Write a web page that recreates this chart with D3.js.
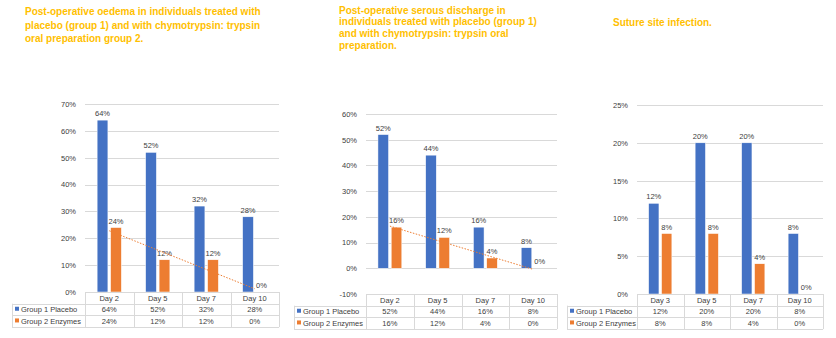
<!DOCTYPE html>
<html>
<head>
<meta charset="utf-8">
<script src="https://cdn.jsdelivr.net/npm/d3@7"></script>
<style>
  body { margin: 0; background: #fff; }
  svg text { font-family: "Liberation Sans", Arial, sans-serif; }
</style>
</head>
<body>
<svg id="chart" width="836" height="338"></svg>
<script>
// series
let seriesNames = ["Group 1 Placebo", "Group 2 Enzymes"];
let seriesColors = ["#4472C4", "#ED7D31"];

// oedema
let oedemaTitle = ["Post-operative oedema in individuals treated with",
                   "placebo (group 1) and with chymotrypsin: trypsin",
                   "oral preparation group 2."];
let oedemaDays = ["Day 2", "Day 5", "Day 7", "Day 10"];
let oedemaPlacebo = [64, 52, 32, 28];
let oedemaEnzymes = [24, 12, 12, 0];
let oedemaTicks = [0, 10, 20, 30, 40, 50, 60, 70];

// serous discharge
let dischargeTitle = ["Post-operative serous discharge in",
                      "individuals treated with placebo (group 1)",
                      "and with chymotrypsin: trypsin oral",
                      "preparation."];
let dischargeDays = ["Day 2", "Day 5", "Day 7", "Day 10"];
let dischargePlacebo = [52, 44, 16, 8];
let dischargeEnzymes = [16, 12, 4, 0];
let dischargeTicks = [-10, 0, 10, 20, 30, 40, 50, 60];

// suture site infection
let infectionTitle = ["Suture site infection."];
let infectionDays = ["Day 3", "Day 5", "Day 7", "Day 10"];
let infectionPlacebo = [12, 20, 20, 8];
let infectionEnzymes = [8, 8, 4, 0];
let infectionTicks = [0, 5, 10, 15, 20, 25];

// panel layouts
let panels = [
    {title: oedemaTitle, days: oedemaDays, values: [oedemaPlacebo, oedemaEnzymes], ticks: oedemaTicks, trend: true,
     titleX: 25, titleY: 15, lineH: 13.5, x0: 85, x1: 279, yTop: 104, yBottom: 292, tableLeft: 12},
    {title: dischargeTitle, days: dischargeDays, values: [dischargePlacebo, dischargeEnzymes], ticks: dischargeTicks, trend: true,
     titleX: 339, titleY: 13.5, lineH: 11.7, x0: 366, x1: 557, yTop: 114, yBottom: 294, tableLeft: 294},
    {title: infectionTitle, days: infectionDays, values: [infectionPlacebo, infectionEnzymes], ticks: infectionTicks, trend: false,
     titleX: 613, titleY: 25.5, lineH: 13, x0: 637, x1: 823, yTop: 105, yBottom: 294, tableLeft: 567}
];

let svg = d3.select("svg#chart");
let rowH = 11.7;
let gridColor = "#d9d9d9";
let textColor = "#404040";

panels.forEach(function(p){
    let g = svg.append("g");

    // title
    g.append("text")
        .attr("x", p.titleX)
        .attr("y", p.titleY)
        .attr("fill", "#FFC000")
        .attr("font-size", "10px")
        .attr("font-weight", "bold")
        .selectAll("tspan")
        .data(p.title)
        .enter().append("tspan")
        .attr("x", p.titleX)
        .attr("dy", (d, i) => i == 0 ? 0 : p.lineH)
        .text(d => d);

    let x = d3.scaleBand().domain(p.days).range([p.x0, p.x1]);
    let xs = d3.scaleBand().domain([0, 1]).range([0, x.bandwidth()])
                .paddingInner(0.2).paddingOuter(0.9);
    let y = d3.scaleLinear()
                .domain(d3.extent(p.ticks))
                .range([p.yBottom, p.yTop]);

    // gridlines
    g.append("g")
        .selectAll("line")
        .data(p.ticks)
        .enter().append("line")
        .attr("x1", p.x0).attr("x2", p.x1)
        .attr("y1", d => Math.round(y(d)) + 0.5)
        .attr("y2", d => Math.round(y(d)) + 0.5)
        .attr("stroke", gridColor)
        .attr("stroke-width", 1);

    // y axis labels
    let yAxis = g.append("g")
        .attr("transform", "translate(" + (p.x0 - 6) + ",0)")
        .call(d3.axisLeft(y).tickValues(p.ticks).tickSize(0).tickFormat(d => d + "%"));
    yAxis.select(".domain").remove();
    yAxis.selectAll("text")
        .attr("font-size", "7.5px")
        .attr("fill", textColor)
        .attr("font-family", "Liberation Sans, Arial, sans-serif");

    // bars
    p.values.forEach(function(vals, s){
        let bars = g.append("g");
        bars.selectAll("rect")
            .data(vals)
            .enter().append("rect")
            .attr("x", (d, i) => x(p.days[i]) + xs(s))
            .attr("width", xs.bandwidth())
            .attr("y", d => y(d))
            .attr("height", d => y(0) - y(d))
            .attr("fill", seriesColors[s])
            .attr("stroke", "#fff")
            .attr("stroke-width", 0.5);
        bars.selectAll("text")
            .data(vals)
            .enter().append("text")
            .attr("x", (d, i) => x(p.days[i]) + xs(s) + xs.bandwidth() / 2)
            .attr("y", d => y(d) - 4)
            .attr("text-anchor", "middle")
            .attr("font-size", "7.5px")
            .attr("fill", textColor)
            .text(d => d + "%");
    });

    // linear trendline for the enzymes series
    if(p.trend){
        let vals = p.values[1];
        let n = vals.length;
        let mx = d3.mean(vals, (d, i) => i);
        let my = d3.mean(vals);
        let slope = d3.sum(vals, (d, i) => (i - mx) * (d - my)) / d3.sum(vals, (d, i) => (i - mx) * (i - mx));
        let fit = i => my + slope * (i - mx);
        let cx = i => x(p.days[i]) + x.bandwidth() / 2;
        g.append("line")
            .attr("x1", cx(0)).attr("y1", y(fit(0)))
            .attr("x2", cx(n - 1)).attr("y2", y(fit(n - 1)))
            .attr("stroke", seriesColors[1])
            .attr("stroke-width", 1)
            .attr("stroke-dasharray", "1.5,1.5");
    }

    // data table
    let tb = y(d3.min(p.ticks));
    let table = g.append("g");
    let hline = (xa, xb, yy) => table.append("line")
        .attr("x1", xa).attr("x2", xb).attr("y1", Math.round(yy) + 0.5).attr("y2", Math.round(yy) + 0.5)
        .attr("stroke", gridColor);
    let vline = (xx, ya, yb) => table.append("line")
        .attr("x1", Math.round(xx) + 0.5).attr("x2", Math.round(xx) + 0.5).attr("y1", ya).attr("y2", yb)
        .attr("stroke", gridColor);

    hline(p.x0, p.x1, tb);
    hline(p.tableLeft, p.x1, tb + rowH);
    hline(p.tableLeft, p.x1, tb + 2 * rowH);
    hline(p.tableLeft, p.x1, tb + 3 * rowH);
    vline(p.tableLeft, tb + rowH, tb + 3 * rowH);
    vline(p.x0, tb, tb + 3 * rowH);
    p.days.forEach(d => vline(x(d) + x.bandwidth(), tb, tb + 3 * rowH));

    table.selectAll("text.day")
        .data(p.days)
        .enter().append("text")
        .attr("class", "day")
        .attr("x", d => x(d) + x.bandwidth() / 2)
        .attr("y", tb + rowH / 2 + 2.7)
        .attr("text-anchor", "middle")
        .attr("font-size", "7.5px")
        .attr("fill", textColor)
        .text(d => d);

    p.values.forEach(function(vals, s){
        let ry = tb + (s + 1) * rowH + rowH / 2 + 2.7;
        table.append("rect")
            .attr("x", p.tableLeft + 3)
            .attr("y", ry - 5.5)
            .attr("width", 4).attr("height", 4)
            .attr("fill", seriesColors[s]);
        table.append("text")
            .attr("x", p.tableLeft + 9)
            .attr("y", ry)
            .attr("font-size", "7.5px")
            .attr("fill", textColor)
            .text(seriesNames[s]);
        table.selectAll("text.v" + s)
            .data(vals)
            .enter().append("text")
            .attr("class", "v" + s)
            .attr("x", (d, i) => x(p.days[i]) + x.bandwidth() / 2)
            .attr("y", ry)
            .attr("text-anchor", "middle")
            .attr("font-size", "7.5px")
            .attr("fill", textColor)
            .text(d => d + "%");
    });
});
</script>
</body>
</html>
